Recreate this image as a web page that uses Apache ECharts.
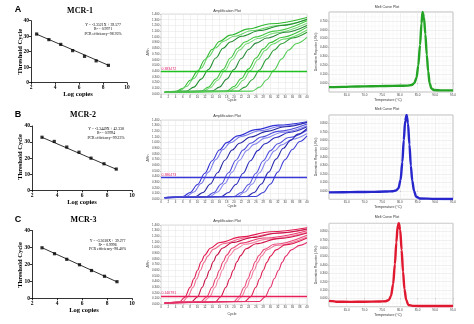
<!DOCTYPE html>
<html><head><meta charset="utf-8">
<script src="https://cdn.jsdelivr.net/npm/echarts@6/dist/echarts.min.js"></script>
<style>html,body{margin:0;padding:0;background:#fff}#c{width:474px;height:324px}</style>
</head><body><div id="c"></div>
<script>
// ================= DATA =================
const panelLetters = ['A', 'B', 'C'];
const stdTitles = ['MCR-1', 'MCR-2', 'MCR-3'];
const logCopiesA = [2.47, 3.49, 4.48, 5.47, 6.46, 7.43, 8.45];
const ctA = [31.4, 27.8, 24.7, 20.7, 17.0, 14.1, 11.2];
const logCopiesB = [2.8, 3.78, 4.78, 5.76, 6.72, 7.76, 8.74];
const ctB = [33.0, 30.4, 26.9, 23.7, 20.0, 16.5, 13.2];
const logCopiesC = [2.8, 3.8, 4.78, 5.8, 6.76, 7.8, 8.8];
const ctC = [29.8, 26.3, 23.0, 19.8, 16.4, 13.0, 9.8];
const slopes = [-3.3521, -3.3449, -3.3618];
const intercepts = [39.577, 42.338, 39.277];
const eqLabels = ['Y = -3.3521X + 39.577', 'Y = -3.3449X + 42.338', 'Y = -3.3618X + 39.277'];
const r2Labels = ['R\u00b2 = 0.9971', 'R\u00b2 = 0.9994', 'R\u00b2 = 0.9996'];
const effLabels = ['PCR efficiency=98.76%', 'PCR efficiency=99.23%', 'PCR efficiency=98.40%'];

// amplification curves: [cycle, ΔRn]
const ampA = [
  [[1,0.03],[4,0.04],[6,0.1],[8,0.24],[10,0.4],[12,0.6],[14,0.78],[16,0.92],[19,1.03],[24,1.14],[30,1.23],[40,1.34]],
  [[1,0.03],[5,0.05],[7,0.13],[9,0.27],[11,0.45],[13,0.65],[15,0.81],[17,0.92],[20,1.01],[25,1.11],[32,1.2],[40,1.3]],
  [[1,0.03],[7,0.05],[9,0.12],[11,0.26],[13,0.43],[15,0.63],[17,0.8],[19,0.91],[22,1.01],[27,1.11],[33,1.2],[40,1.31]],
  [[1,0.03],[11,0.05],[13,0.12],[15,0.26],[17,0.43],[19,0.63],[21,0.8],[23,0.91],[26,1.0],[31,1.1],[40,1.28]],
  [[1,0.03],[11.5,0.04],[13.5,0.11],[15.5,0.24],[17.5,0.41],[19.5,0.6],[21.5,0.77],[23.5,0.88],[26.5,0.97],[31.5,1.07],[40,1.24]],
  [[1,0.03],[14,0.05],[16,0.12],[18,0.26],[20,0.43],[22,0.62],[24,0.78],[26,0.89],[29,0.98],[34,1.08],[40,1.2]],
  [[1,0.03],[18,0.05],[20,0.13],[22,0.27],[24,0.44],[26,0.63],[28,0.79],[30,0.9],[33,0.99],[40,1.17]],
  [[1,0.03],[18.5,0.04],[20.5,0.11],[22.5,0.24],[24.5,0.41],[26.5,0.6],[28.5,0.76],[30.5,0.87],[33.5,0.96],[40,1.12]],
  [[1,0.03],[21,0.05],[23,0.12],[25,0.25],[27,0.42],[29,0.61],[31,0.77],[33,0.88],[36,0.98],[40,1.08]],
  [[1,0.03],[25,0.05],[27,0.12],[29,0.25],[31,0.42],[33,0.61],[35,0.77],[37,0.88],[40,0.99]]
];
const ampB = [
  [[1,0.03],[6,0.05],[8,0.12],[10,0.26],[12,0.46],[14,0.68],[16,0.87],[18,1.0],[21,1.12],[26,1.23],[32,1.31],[40,1.37]],
  [[1,0.03],[7,0.05],[9,0.13],[11,0.28],[13,0.48],[15,0.7],[17,0.88],[19,1.0],[22,1.11],[27,1.21],[33,1.29],[40,1.35]],
  [[1,0.03],[9.5,0.05],[11.5,0.12],[13.5,0.27],[15.5,0.47],[17.5,0.69],[19.5,0.87],[21.5,0.99],[24.5,1.1],[29,1.2],[34,1.28],[40,1.36]],
  [[1,0.03],[12.5,0.05],[14.5,0.12],[16.5,0.27],[18.5,0.47],[20.5,0.69],[22.5,0.87],[24.5,0.99],[27.5,1.1],[32,1.2],[40,1.33]],
  [[1,0.03],[13.5,0.05],[15.5,0.13],[17.5,0.28],[19.5,0.48],[21.5,0.69],[23.5,0.86],[25.5,0.97],[28.5,1.08],[33,1.18],[40,1.3]],
  [[1,0.03],[16.5,0.05],[18.5,0.12],[20.5,0.26],[22.5,0.46],[24.5,0.68],[26.5,0.86],[28.5,0.98],[31.5,1.09],[35,1.18],[40,1.28]],
  [[1,0.03],[20,0.05],[22,0.12],[24,0.26],[26,0.46],[28,0.68],[30,0.86],[32,0.98],[35,1.09],[40,1.22]],
  [[1,0.03],[21,0.05],[23,0.13],[25,0.27],[27,0.47],[29,0.68],[31,0.85],[33,0.96],[36,1.06],[40,1.16]],
  [[1,0.03],[23.5,0.05],[25.5,0.12],[27.5,0.27],[29.5,0.48],[31.5,0.71],[33.5,0.9],[35.5,1.04],[37.5,1.15],[40,1.25]],
  [[1,0.03],[26,0.05],[28,0.12],[30,0.27],[32,0.48],[34,0.7],[36,0.88],[38,1.02],[40,1.12]]
];
const ampC = [
  [[1,0.02],[5,0.04],[6.5,0.12],[8,0.3],[9,0.45],[10,0.6],[11,0.75],[12,0.87],[13.5,0.99],[16,1.09],[22,1.19],[30,1.28],[40,1.35]],
  [[1,0.02],[6,0.05],[7.3,0.13],[8.8,0.3],[9.8,0.45],[10.8,0.6],[11.8,0.74],[12.8,0.85],[14.3,0.97],[17,1.07],[23,1.17],[31,1.25],[40,1.32]],
  [[1,0.02],[8.5,0.05],[10,0.13],[11.3,0.3],[12.3,0.45],[13.3,0.6],[14.3,0.75],[15.3,0.87],[16.8,0.99],[19.5,1.09],[25,1.18],[32,1.26],[40,1.33]],
  [[1,0.02],[11,0.05],[12.5,0.13],[14,0.3],[15,0.45],[16,0.6],[17,0.75],[18,0.87],[19.5,0.99],[22,1.08],[28,1.17],[40,1.3]],
  [[1,0.02],[11.8,0.05],[13.3,0.13],[14.8,0.3],[15.8,0.45],[16.8,0.6],[17.8,0.74],[18.8,0.86],[20.3,0.97],[23,1.06],[29,1.15],[40,1.27]],
  [[1,0.02],[15,0.05],[16.3,0.13],[17.8,0.3],[18.8,0.45],[19.8,0.6],[20.8,0.75],[21.8,0.86],[23.3,0.98],[26,1.07],[32,1.16],[40,1.26]],
  [[1,0.02],[20,0.05],[21.3,0.13],[22.8,0.3],[23.8,0.45],[24.8,0.6],[25.8,0.75],[26.8,0.86],[28.3,0.97],[31,1.06],[40,1.22]],
  [[1,0.02],[20.7,0.05],[22,0.13],[23.5,0.3],[24.5,0.45],[25.5,0.6],[26.5,0.74],[27.5,0.85],[29,0.96],[31.5,1.04],[40,1.19]],
  [[1,0.02],[23,0.05],[24.5,0.13],[26,0.3],[27,0.45],[28,0.6],[29,0.74],[30,0.85],[31.5,0.96],[34,1.05],[40,1.17]],
  [[1,0.02],[27,0.05],[28.5,0.13],[30,0.3],[31,0.45],[32.2,0.6],[33.2,0.74],[34.2,0.85],[35.7,0.96],[38,1.04],[40,1.09]]
];
const thresholds = [0.385, 0.388, 0.147];
const thresholdLabels = ['0.383472', '0.386473', '0.146791'];

// melt curves: [temperature °C, derivative reporter]
const meltA = [[60,-0.045],[64,-0.042],[68,-0.038],[72,-0.035],[76,-0.032],[80,-0.03],[82,-0.028],[83.3,-0.022],[84.1,0.0],[84.7,0.06],[85.2,0.2],[85.7,0.43],[86.1,0.67],[86.4,0.8],[86.8,0.74],[87.2,0.55],[87.6,0.32],[88,0.13],[88.4,0.0],[88.9,-0.06],[89.6,-0.078],[92,-0.082],[95,-0.082]];
const meltB = [[60,-0.018],[64,-0.016],[68,-0.014],[72,-0.012],[76,-0.008],[78,-0.004],[78.9,0.005],[79.6,0.03],[80.2,0.13],[80.7,0.34],[81.1,0.6],[81.5,0.83],[81.9,0.9],[82.3,0.8],[82.7,0.55],[83.1,0.3],[83.5,0.12],[84,0.0],[84.6,-0.07],[85.6,-0.09],[90,-0.095],[95,-0.097]];
const meltC = [[60,-0.03],[61,-0.033],[62,-0.04],[66,-0.042],[70,-0.04],[74,-0.038],[76,-0.034],[76.9,-0.02],[77.5,0.03],[78.1,0.17],[78.6,0.41],[79,0.67],[79.4,0.87],[79.7,0.9],[80.1,0.82],[80.5,0.58],[80.9,0.32],[81.3,0.11],[81.8,-0.02],[82.4,-0.08],[83.6,-0.09],[88,-0.092],[95,-0.092]];
const meltYMax = [0.8, 0.9, 0.9];

// ================= LAYOUT / STYLE =================
const stdX = [logCopiesA, logCopiesB, logCopiesC];
const stdY = [ctA, ctB, ctC];
const amps = [ampA, ampB, ampC];
const melts = [meltA, meltB, meltC];
const stdGrid = [{left:31,top:20.7,width:96,height:62},{left:32,top:126,width:100,height:64.3},{left:32,top:230.5,width:100,height:67.8}];
const ampGrid = [{left:161,top:14,width:146,height:80},{left:161,top:120,width:146,height:79.3},{left:161,top:225,width:146,height:79.3}];
const meltGrid = [{left:329,top:12,width:124,height:80},{left:329,top:115,width:124,height:84.3},{left:329,top:223.3,width:124,height:83.4}];
const ampColors = [
  ['#2fb82f','#6ad46a','#238f30','#45c845','#7fdc7f','#2a8a3a','#38c038','#70d870','#2f9f35','#55cc55'],
  ['#3030d4','#7a7aea','#2424a4','#4c4cdc','#8c8cee','#2a2abc','#5454e0','#8888ec','#2828b0','#4040d4'],
  ['#e3184f','#ef6a8e','#c40e44','#e83a6c','#f286a6','#d4144a','#ea4a7a','#f07a9c','#de1e52','#e4306a']
];
const thrColor = ['#1fbf1f', '#3a3ad8', '#e8205a'];
const meltColor = ['#24a424', '#2626cc', '#e01830'];
const rowY = [0, 105, 210];

const SERIF = '"Liberation Serif", "DejaVu Serif", serif';
const SANS = '"Liberation Sans", Arial, sans-serif';

function txt(x, y, s, font, rot, color) {
  return { type: 'text', x: x, y: y, rotation: rot || 0, silent: true,
    style: { text: s, font: font, fill: color || '#000', align: 'center', verticalAlign: 'middle',
      textAlign: 'center', textVerticalAlign: 'middle' } };
}

const grids = [], xAxes = [], yAxes = [], series = [], graphics = [];
for (let r = 0; r < 3; r++) {
  // ---- standard curve panel ----
  let gi = grids.length;
  grids.push(Object.assign({ show: false }, stdGrid[r]));
  xAxes.push({ gridIndex: gi, type: 'value', min: 2, max: 10, interval: 2,
    axisLine: { show: true, lineStyle: { color: '#000', width: 0.8 } },
    axisTick: { show: true, length: 2, lineStyle: { color: '#000', width: 0.8 } },
    splitLine: { show: false },
    axisLabel: { fontSize: 5.5, fontWeight: 'bold', fontFamily: SERIF, color: '#000', margin: 2 } });
  yAxes.push({ gridIndex: gi, type: 'value', min: 0, max: 40, interval: 10,
    axisLine: { show: true, lineStyle: { color: '#000', width: 0.8 } },
    axisTick: { show: true, length: 2, lineStyle: { color: '#000', width: 0.8 } },
    splitLine: { show: false },
    axisLabel: { fontSize: 5.5, fontWeight: 'bold', fontFamily: SERIF, color: '#000', margin: 2 } });
  const xs = stdX[r], ys = stdY[r];
  const x0 = xs[0], x1 = xs[xs.length - 1];
  series.push({ type: 'line', xAxisIndex: gi, yAxisIndex: gi, symbol: 'none', silent: true,
    lineStyle: { color: '#000', width: 0.8 },
    data: [[x0, slopes[r] * x0 + intercepts[r]], [x1, slopes[r] * x1 + intercepts[r]]] });
  series.push({ type: 'scatter', xAxisIndex: gi, yAxisIndex: gi, symbol: 'rect', symbolSize: 3.2,
    itemStyle: { color: '#000' }, data: xs.map((x, i) => [x, ys[i]]) });

  // ---- amplification plot ----
  gi = grids.length;
  grids.push(Object.assign({ show: true, borderColor: '#c8c8c8', borderWidth: 0.6, backgroundColor: '#fff' }, ampGrid[r]));
  xAxes.push({ gridIndex: gi, type: 'value', min: 0, max: 40, interval: 2,
    axisLine: { show: false }, axisTick: { show: true, length: 1, lineStyle: { color: '#999', width: 0.5 } },
    splitLine: { show: true, lineStyle: { color: '#e4e4e4', width: 0.5 } },
    axisLabel: { fontSize: 3, color: '#444', margin: 1.5 } });
  yAxes.push({ gridIndex: gi, type: 'value', min: 0, max: 1.4, interval: 0.1,
    axisLine: { show: false }, axisTick: { show: true, length: 1, lineStyle: { color: '#999', width: 0.5 } },
    splitLine: { show: true, lineStyle: { color: '#e4e4e4', width: 0.5 } },
    axisLabel: { fontSize: 3, color: '#444', margin: 1.5, formatter: v => v.toFixed(3) } });
  amps[r].forEach((curve, k) => {
    const s = { type: 'line', xAxisIndex: gi, yAxisIndex: gi, symbol: 'none', silent: true,
      smooth: 0.35, smoothMonotone: 'x', lineStyle: { color: ampColors[r][k], width: 1.1 }, data: curve, z: 3 };
    if (k === 0) {
      s.markLine = { symbol: 'none', silent: true, z: 4,
        lineStyle: { color: thrColor[r], width: 1.3, type: 'solid' },
        label: { show: true, position: 'insideStartTop', formatter: thresholdLabels[r],
          color: '#e0206a', fontSize: 3.5, distance: 0.5 },
        data: [{ yAxis: thresholds[r] }] };
    }
    series.push(s);
  });

  // ---- melt curve plot ----
  gi = grids.length;
  grids.push(Object.assign({ show: true, borderColor: '#a8a8a8', borderWidth: 0.8, backgroundColor: '#fff' }, meltGrid[r]));
  xAxes.push({ gridIndex: gi, type: 'value', min: 60, max: 95, interval: 5,
    axisLine: { show: false }, axisTick: { show: true, length: 1, lineStyle: { color: '#999', width: 0.5 } },
    splitLine: { show: true, lineStyle: { color: '#e2e2e2', width: 0.5 } },
    minorSplitLine: { show: true, lineStyle: { color: '#efefef', width: 0.4 } },
    minorTick: { show: false, splitNumber: 5 },
    axisLabel: { fontSize: 3, color: '#444', margin: 1.5, showMinLabel: false, formatter: v => v.toFixed(1) } });
  yAxes.push({ gridIndex: gi, type: 'value', min: -0.1, max: meltYMax[r], interval: 0.1,
    axisLine: { show: false }, axisTick: { show: true, length: 1, lineStyle: { color: '#999', width: 0.5 } },
    splitLine: { show: true, lineStyle: { color: '#e2e2e2', width: 0.5 } },
    minorSplitLine: { show: true, lineStyle: { color: '#efefef', width: 0.4 } },
    minorTick: { show: false, splitNumber: 2 },
    axisLabel: { fontSize: 3, color: '#444', margin: 1.5, showMinLabel: false, showMaxLabel: false, formatter: v => v.toFixed(3) } });
  series.push({ type: 'line', xAxisIndex: gi, yAxisIndex: gi, symbol: 'none', silent: true, clip: true,
    smooth: 0.3, smoothMonotone: 'x', lineStyle: { color: meltColor[r], width: 2.4 }, data: melts[r] });

  // ---- texts ----
  const letterY = [10, 115, 220][r];
  graphics.push(txt(18, letterY, panelLetters[r], 'bold 9px ' + SANS));
  graphics.push(txt([80, 83, 83.5][r], [11, 114.5, 220][r], stdTitles[r], 'bold 8px ' + SERIF));
  const eqX = [103, 106, 107.5][r];
  const eqY = [[25, 29.3, 33.7], [129, 133.3, 137.7], [240.7, 244.9, 249.1]][r];
  graphics.push(txt(eqX, eqY[0], eqLabels[r], '3.8px ' + SERIF));
  graphics.push(txt(eqX, eqY[1], r2Labels[r], '3.8px ' + SERIF));
  graphics.push(txt(eqX, eqY[2], effLabels[r], '3.8px ' + SERIF));
  graphics.push(txt(20.5, [51.7, 157, 265][r], 'Threshold Cycle', 'bold 6.5px ' + SERIF, Math.PI / 2));
  graphics.push(txt([78, 82, 84][r], [94, 202, 310][r], 'Log copies', 'bold 6.5px ' + SERIF));
  graphics.push(txt(227, [11, 116, 221][r], 'Amplification Plot', '3.6px ' + SANS, 0, '#333'));
  graphics.push(txt(148, [52, 158, 264][r], '\u0394Rn', '3.6px ' + SANS, Math.PI / 2, '#333'));
  graphics.push(txt(232, [100, 206, 314][r], 'Cycle', '3.6px ' + SANS, 0, '#333'));
  graphics.push(txt(387, [7, 109, 217][r], 'Melt Curve Plot', '3.6px ' + SANS, 0, '#333'));
  graphics.push(txt(316.5, [52, 157, 265][r], "Derivative Reporter (-Rn')", '3.4px ' + SANS, Math.PI / 2, '#333'));
  graphics.push(txt(388, [99.5, 206.5, 315][r], 'Temperature (\u00b0C)', '3.6px ' + SANS, 0, '#333'));
}

const chart = echarts.init(document.getElementById('c'), null, { renderer: 'canvas', width: 474, height: 324 });
chart.setOption({
  animation: false,
  backgroundColor: '#fff',
  grid: grids, xAxis: xAxes, yAxis: yAxes, series: series,
  graphic: { elements: graphics }
});
</script>
</body></html>
